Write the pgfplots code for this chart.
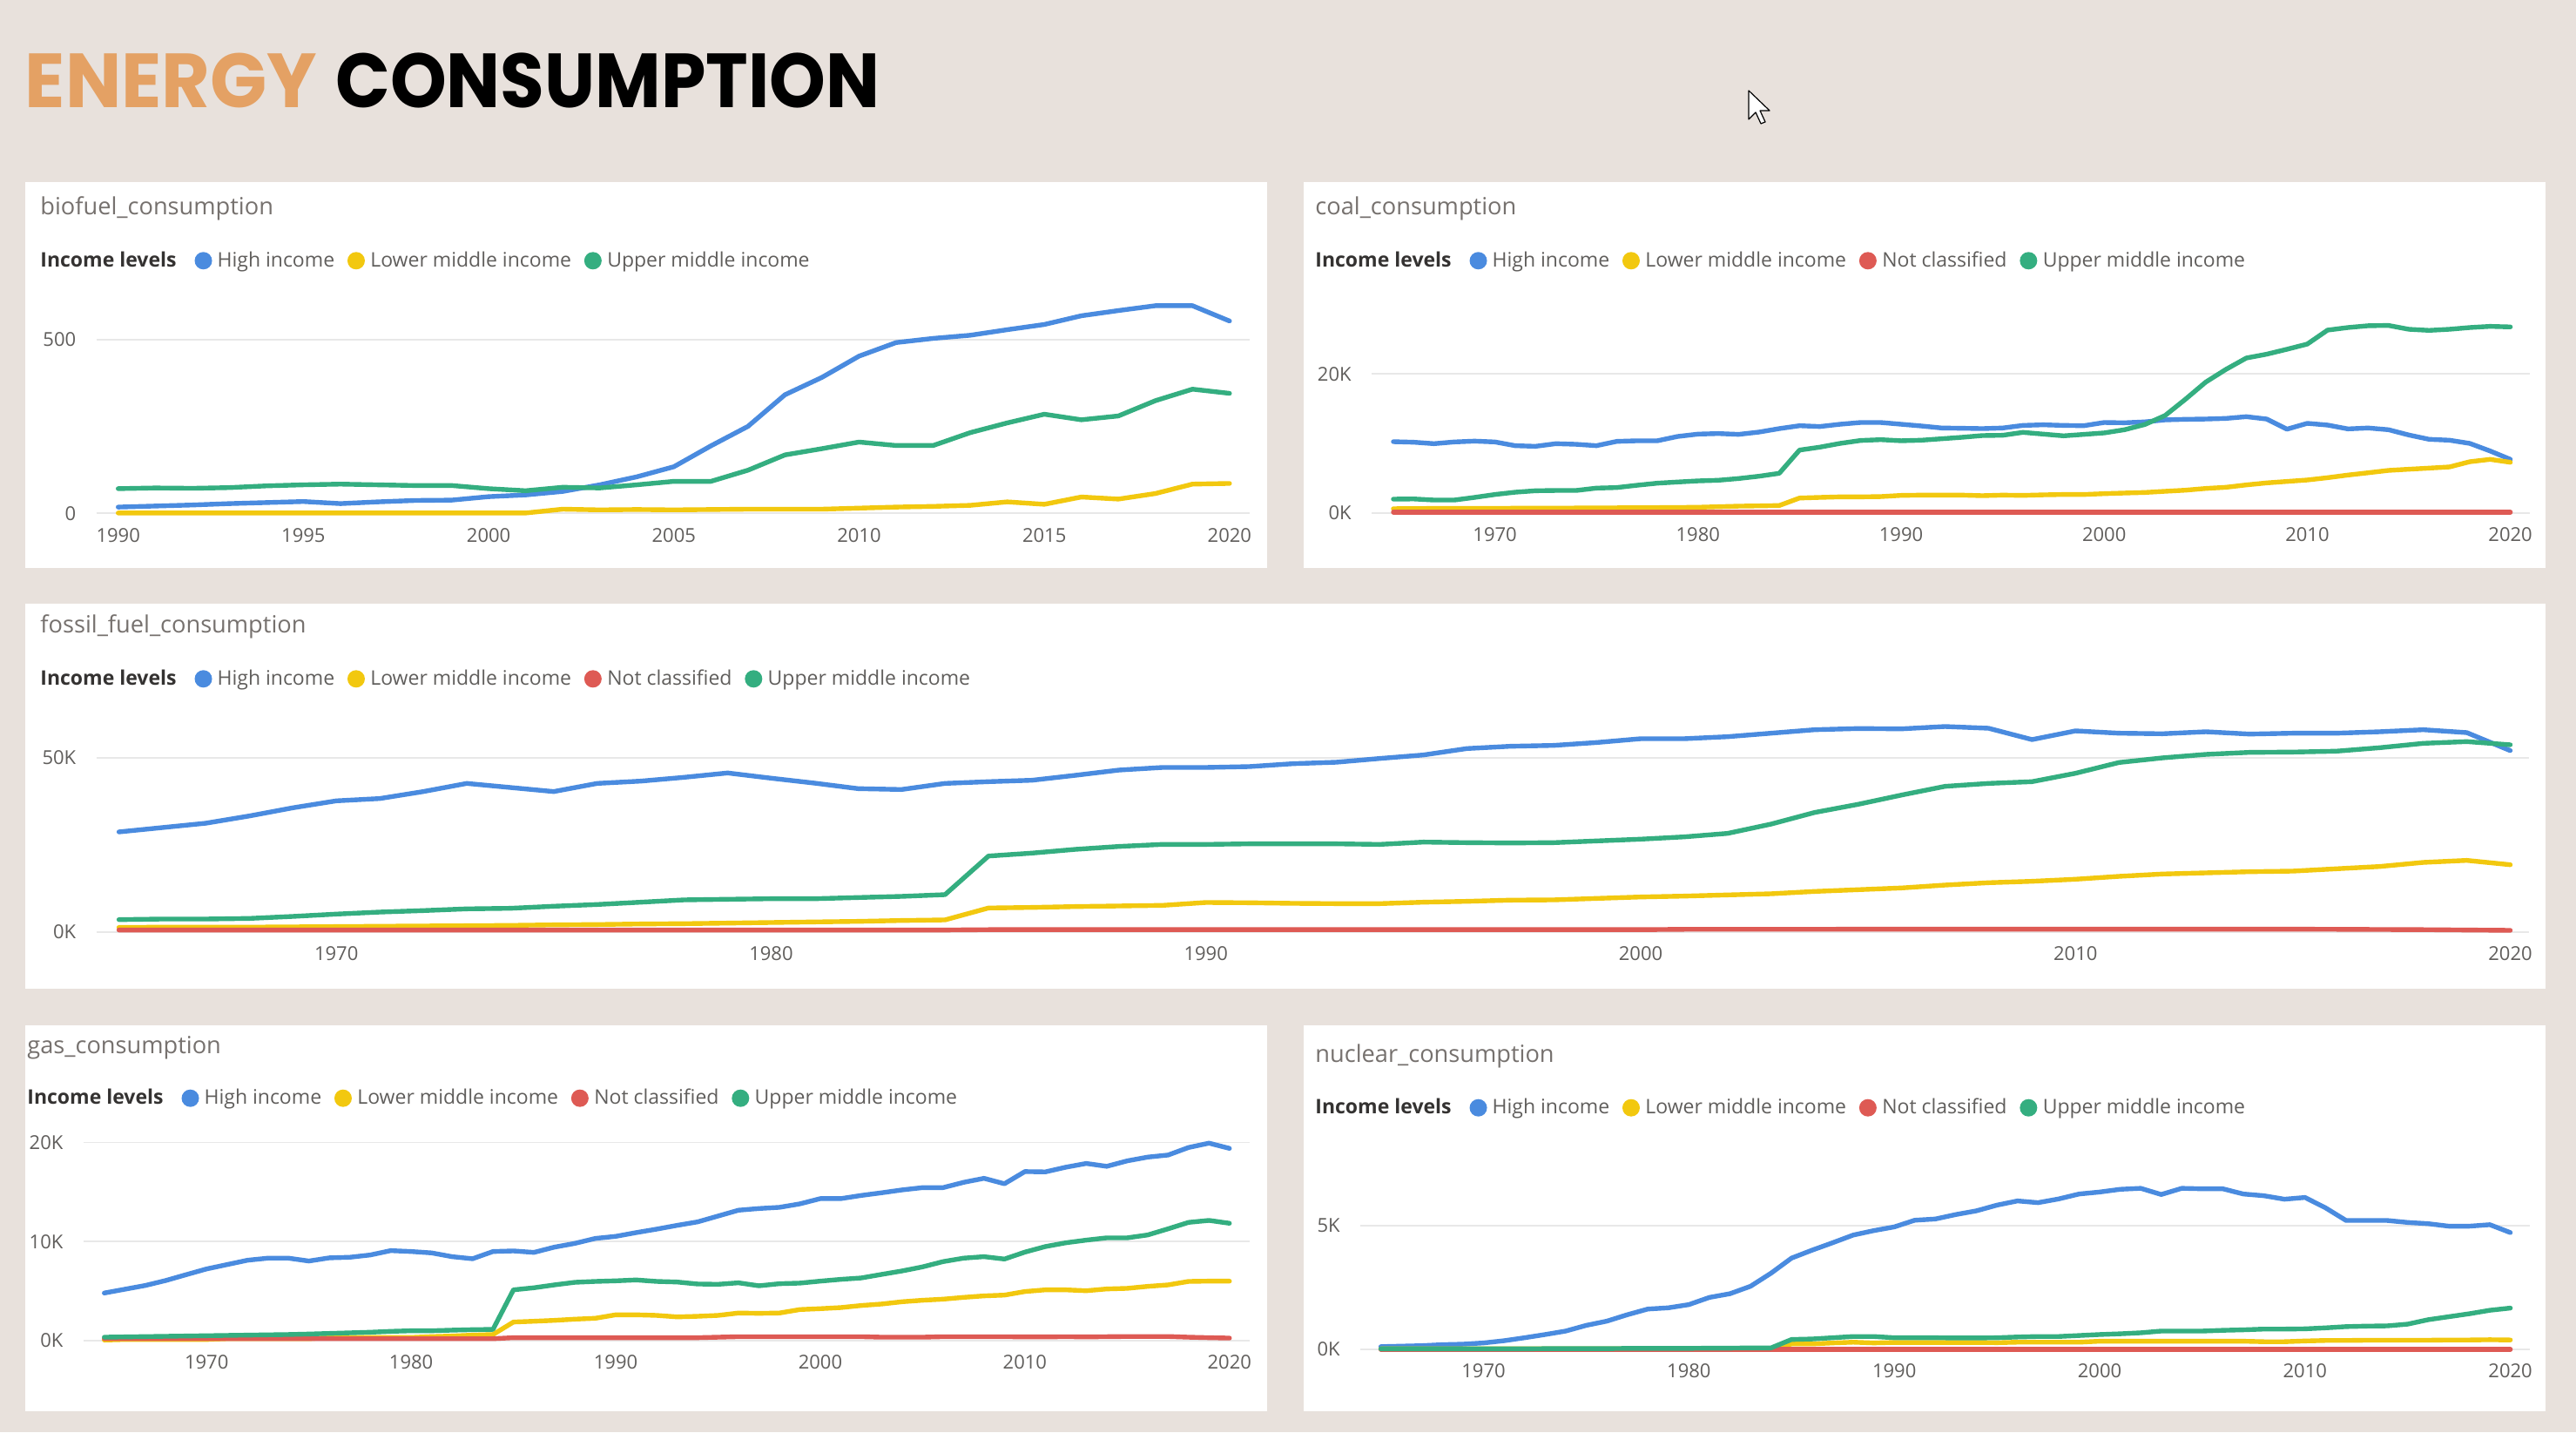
\documentclass[border=0pt]{standalone}
\usepackage{fontspec}
\setmainfont{Open Sans}
\newfontfamily\titlefont{Poppins}
\usepackage{pgfplots}
\pgfplotsset{compat=1.18}
\usepackage{pgfplotstable}

\definecolor{bgc}{RGB}{232,225,220}
\definecolor{cblue}{RGB}{74,139,223}
\definecolor{cyellow}{RGB}{242,200,15}
\definecolor{cred}{RGB}{222,90,84}
\definecolor{cgreen}{RGB}{52,174,128}
\definecolor{gridc}{RGB}{232,232,232}
\definecolor{tickc}{RGB}{96,94,92}
\definecolor{titlec}{RGB}{118,113,110}
\definecolor{legdark}{RGB}{52,50,49}
\definecolor{energyc}{RGB}{228,161,100}

\newcommand{\legfont}{\fontsize{11.5}{13}\selectfont}
\newcommand{\panelfont}{\fontsize{13.6}{16}\selectfont}

% ---------------- data ----------------
\pgfplotstableread{
year high lower upper
1990 18 1 71
1991 21 1 73
1992 24 1 72
1993 28 1 74
1994 31 1 79
1995 34 1 82
1996 28 1 84
1997 33 1 82
1998 37 1 80
1999 38 1 80
2000 48 1 71
2001 53 1 65
2002 63 12 75
2003 82 10 73
2004 105 11 82
2005 134 10 92
2006 194 11 92
2007 250 12 124
2008 341 12 168
2009 391 12 186
2010 452 15 205
2011 491 18 195
2012 503 20 195
2013 512 23 232
2014 528 33 260
2015 543 26 285
2016 568 47 269
2017 583 41 280
2018 597 57 324
2019 597 84 357
2020 553 86 345
}\biofuel

\pgfplotstableread{
year high lower notc upper
1965 10.25 0.59 0.10 1.97
1966 10.17 0.62 0.10 2.00
1967 9.96 0.63 0.10 1.84
1968 10.21 0.63 0.10 1.84
1969 10.33 0.64 0.10 2.22
1970 10.21 0.65 0.10 2.64
1971 9.67 0.66 0.10 2.97
1972 9.58 0.67 0.10 3.18
1973 9.96 0.68 0.10 3.22
1974 9.87 0.69 0.10 3.22
1975 9.67 0.70 0.10 3.56
1976 10.29 0.72 0.10 3.64
1977 10.38 0.74 0.10 3.97
1978 10.38 0.75 0.10 4.27
1979 11.00 0.77 0.10 4.44
1980 11.34 0.80 0.10 4.60
1981 11.42 0.88 0.10 4.69
1982 11.30 0.96 0.10 4.94
1983 11.63 1.00 0.10 5.27
1984 12.13 1.05 0.10 5.69
1985 12.55 2.13 0.10 9.04
1986 12.43 2.22 0.10 9.46
1987 12.76 2.30 0.10 10.00
1988 13.01 2.30 0.10 10.42
1989 13.01 2.34 0.10 10.54
1990 12.76 2.51 0.10 10.38
1991 12.51 2.55 0.10 10.46
1992 12.22 2.55 0.10 10.67
1993 12.18 2.55 0.10 10.88
1994 12.13 2.47 0.10 11.13
1995 12.22 2.55 0.10 11.17
1996 12.59 2.51 0.10 11.59
1997 12.68 2.59 0.10 11.34
1998 12.59 2.64 0.10 11.09
1999 12.55 2.64 0.10 11.30
2000 13.01 2.76 0.10 11.51
2001 12.97 2.85 0.10 11.97
2002 13.10 2.93 0.10 12.72
2003 13.39 3.10 0.10 14.02
2004 13.47 3.26 0.10 16.36
2005 13.51 3.51 0.10 18.83
2006 13.60 3.68 0.10 20.67
2007 13.85 4.02 0.10 22.30
2008 13.51 4.31 0.10 22.85
2009 12.05 4.52 0.10 23.56
2010 12.89 4.73 0.10 24.31
2011 12.64 5.06 0.10 26.32
2012 12.09 5.44 0.10 26.69
2013 12.22 5.77 0.10 26.95
2014 11.97 6.11 0.10 26.99
2015 11.21 6.28 0.10 26.44
2016 10.59 6.44 0.10 26.28
2017 10.46 6.61 0.10 26.44
2018 10.00 7.36 0.10 26.69
2019 8.91 7.70 0.10 26.86
2020 7.70 7.28 0.10 26.78
}\coal

\pgfplotstableread{
year high lower notc upper
1965 28.75 1.33 0.6 3.58
1966 30.00 1.42 0.6 3.75
1967 31.25 1.42 0.6 3.75
1968 33.33 1.42 0.6 3.92
1969 35.67 1.50 0.6 4.50
1970 37.67 1.58 0.6 5.17
1971 38.33 1.67 0.6 5.75
1972 40.33 1.75 0.6 6.17
1973 42.67 1.83 0.6 6.67
1974 41.50 1.92 0.6 6.83
1975 40.33 2.08 0.6 7.42
1976 42.67 2.17 0.6 7.92
1977 43.33 2.33 0.6 8.58
1978 44.42 2.42 0.6 9.25
1979 45.67 2.58 0.6 9.42
1980 44.17 2.75 0.6 9.58
1981 42.75 2.92 0.6 9.58
1982 41.17 3.08 0.6 9.92
1983 40.92 3.33 0.6 10.25
1984 42.67 3.50 0.6 10.75
1985 43.17 6.92 0.7 21.83
1986 43.58 7.08 0.7 22.67
1987 45.00 7.33 0.7 23.75
1988 46.50 7.50 0.7 24.58
1989 47.25 7.67 0.7 25.17
1990 47.25 8.50 0.7 25.17
1991 47.50 8.42 0.7 25.33
1992 48.33 8.25 0.7 25.33
1993 48.75 8.17 0.7 25.33
1994 49.83 8.17 0.7 25.17
1995 50.83 8.58 0.7 25.83
1996 52.67 8.83 0.7 25.67
1997 53.33 9.17 0.7 25.58
1998 53.58 9.25 0.7 25.67
1999 54.42 9.67 0.7 26.17
2000 55.50 10.08 0.7 26.67
2001 55.50 10.33 0.8 27.33
2002 56.08 10.67 0.8 28.33
2003 57.08 11.00 0.8 31.00
2004 58.08 11.67 0.8 34.33
2005 58.42 12.17 0.85 36.67
2006 58.33 12.67 0.85 39.33
2007 59.00 13.50 0.85 41.83
2008 58.50 14.17 0.85 42.67
2009 55.25 14.58 0.85 43.17
2010 57.75 15.17 0.85 45.58
2011 57.08 16.00 0.85 48.67
2012 56.92 16.67 0.85 50.00
2013 57.50 17.00 0.85 51.00
2014 56.83 17.33 0.85 51.58
2015 57.08 17.50 0.85 51.67
2016 57.08 18.17 0.8 51.92
2017 57.50 18.83 0.75 52.92
2018 58.08 20.00 0.7 54.17
2019 57.25 20.58 0.6 54.67
2020 52.08 19.33 0.5 53.75
}\fossil

\pgfplotstableread{
year high lower notc upper
1965 4.81 0.06 0.20 0.35
1966 5.19 0.12 0.20 0.38
1967 5.57 0.12 0.20 0.41
1968 6.07 0.12 0.20 0.44
1969 6.66 0.12 0.20 0.47
1970 7.24 0.12 0.20 0.50
1971 7.68 0.20 0.20 0.53
1972 8.12 0.20 0.20 0.56
1973 8.33 0.20 0.20 0.59
1974 8.33 0.20 0.20 0.62
1975 8.04 0.20 0.20 0.67
1976 8.36 0.32 0.20 0.73
1977 8.42 0.32 0.20 0.79
1978 8.65 0.32 0.20 0.85
1979 9.09 0.32 0.20 0.94
1980 9.00 0.32 0.20 1.00
1981 8.86 0.41 0.20 1.00
1982 8.48 0.47 0.20 1.06
1983 8.27 0.56 0.20 1.11
1984 9.00 0.62 0.20 1.14
1985 9.06 1.88 0.30 5.13
1986 8.91 1.96 0.30 5.34
1987 9.44 2.05 0.30 5.63
1988 9.82 2.17 0.30 5.89
1989 10.32 2.26 0.30 5.98
1990 10.53 2.61 0.30 6.04
1991 10.91 2.61 0.30 6.13
1992 11.26 2.55 0.30 5.98
1993 11.64 2.40 0.30 5.92
1994 11.99 2.46 0.30 5.72
1995 12.58 2.55 0.35 5.69
1996 13.17 2.79 0.40 5.84
1997 13.34 2.76 0.40 5.54
1998 13.46 2.79 0.40 5.75
1999 13.81 3.14 0.40 5.81
2000 14.34 3.23 0.40 6.01
2001 14.34 3.34 0.40 6.19
2002 14.66 3.55 0.40 6.33
2003 14.93 3.70 0.35 6.69
2004 15.22 3.93 0.35 7.04
2005 15.45 4.08 0.35 7.45
2006 15.45 4.19 0.40 7.98
2007 15.98 4.37 0.40 8.33
2008 16.39 4.52 0.40 8.48
2009 15.84 4.60 0.40 8.24
2010 17.07 4.96 0.38 8.94
2011 17.04 5.13 0.38 9.50
2012 17.51 5.13 0.40 9.88
2013 17.89 5.04 0.38 10.15
2014 17.60 5.22 0.40 10.38
2015 18.15 5.28 0.42 10.38
2016 18.53 5.48 0.42 10.67
2017 18.74 5.63 0.42 11.29
2018 19.50 5.98 0.35 11.94
2019 19.94 6.01 0.30 12.14
2020 19.41 6.01 0.26 11.85
}\gas

\pgfplotstableread{
year high lower notc upper
1965 0.11 0.02 0 0.02
1966 0.13 0.02 0 0.02
1967 0.15 0.02 0 0.02
1968 0.19 0.02 0 0.02
1969 0.21 0.02 0 0.02
1970 0.26 0.02 0 0.02
1971 0.35 0.02 0 0.02
1972 0.47 0.02 0 0.02
1973 0.60 0.02 0 0.03
1974 0.74 0.02 0 0.03
1975 0.97 0.02 0 0.03
1976 1.14 0.02 0 0.03
1977 1.40 0.02 0 0.04
1978 1.63 0.02 0 0.04
1979 1.68 0.02 0 0.04
1980 1.81 0.02 0 0.04
1981 2.10 0.02 0 0.05
1982 2.25 0.02 0 0.05
1983 2.55 0.02 0 0.06
1984 3.08 0.02 0 0.06
1985 3.69 0.22 0 0.40
1986 4.01 0.22 0 0.42
1987 4.31 0.26 0 0.47
1988 4.62 0.29 0 0.52
1989 4.80 0.26 0 0.52
1990 4.95 0.28 0 0.47
1991 5.22 0.28 0 0.47
1992 5.27 0.28 0 0.47
1993 5.45 0.28 0 0.46
1994 5.60 0.28 0 0.46
1995 5.83 0.27 0 0.47
1996 6.00 0.29 0 0.50
1997 5.93 0.29 0 0.52
1998 6.08 0.29 0 0.52
1999 6.28 0.29 0 0.56
2000 6.36 0.33 0 0.60
2001 6.47 0.33 0 0.63
2002 6.51 0.33 0 0.67
2003 6.26 0.33 0 0.74
2004 6.51 0.33 0 0.74
2005 6.49 0.33 0 0.74
2006 6.49 0.33 0 0.77
2007 6.28 0.33 0 0.79
2008 6.21 0.31 0 0.82
2009 6.07 0.31 0 0.82
2010 6.14 0.34 0 0.83
2011 5.72 0.36 0 0.87
2012 5.21 0.36 0 0.92
2013 5.21 0.37 0 0.94
2014 5.21 0.37 0 0.95
2015 5.13 0.37 0 1.02
2016 5.08 0.37 0 1.20
2017 4.98 0.38 0 1.32
2018 4.98 0.38 0 1.44
2019 5.04 0.39 0 1.58
2020 4.72 0.38 0 1.67
}\nuclear

\pgfplotsset{
  panel/.style={
    scale only axis, anchor=south west, clip=false,
    axis line style={draw=none}, major tick length=0pt,
    ymajorgrids, grid style={color=gridc, line width=0.9pt},
    tick label style={font=\fontsize{11}{13}\selectfont, text=tickc},
    xticklabel style={anchor=center, inner sep=0pt, yshift=-12.5pt},
    yticklabel style={anchor=east, inner sep=0pt, xshift=-11.5pt},
    every axis plot/.append style={line width=2.7pt, line join=round, line cap=round, mark=none},
  },
}

\tikzset{
  legtxt/.style={anchor=west, inner sep=0pt, text height=0.72em, text depth=0pt, font=\legfont, text=tickc},
  ptitle/.style={anchor=west, inner sep=0pt, text height=0.76em, text depth=0.24em, font=\panelfont, text=titlec},
}

\newcommand{\legendrow}[3]{%
  \node[legtxt, font=\legfont\bfseries, text=legdark] (a0) at (#1,#2) {Income levels};
  \fill[cblue] ([xshift=15.25pt]a0.east) circle (5pt);
  \node[legtxt] (a1) at ([xshift=23.1pt]a0.east) {High income};
  \fill[cyellow] ([xshift=12.2pt]a1.east) circle (5pt);
  \node[legtxt] (a2) at ([xshift=20.2pt]a1.east) {Lower middle income};
  \ifnum#3=1
    \fill[cred] ([xshift=12.2pt]a2.east) circle (5pt);
    \node[legtxt] (a3) at ([xshift=20.2pt]a2.east) {Not classified};
    \fill[cgreen] ([xshift=12.2pt]a3.east) circle (5pt);
    \node[legtxt] at ([xshift=20.2pt]a3.east) {Upper middle income};
  \else
    \fill[cgreen] ([xshift=12.2pt]a2.east) circle (5pt);
    \node[legtxt] at ([xshift=20.2pt]a2.east) {Upper middle income};
  \fi}

\newlength\twE
\newlength\twC
\newcommand{\ttfontsel}{\titlefont\bfseries\fontsize{44}{44}\selectfont}

\begin{document}
\settowidth\twE{\ttfontsel ENERGY}%
\settowidth\twC{\ttfontsel CONSUMPTION}%
\pgfmathsetmacro\sxE{167.7/\twE}%
\pgfmathsetmacro\sxC{312.5/\twC}%
\begin{tikzpicture}
% background
\fill[bgc] (0pt,0pt) rectangle (1479pt,822pt);
% main title
\node[anchor=base west, inner sep=0pt, text=energyc] at (14.2pt,760pt) {\scalebox{\sxE}[1]{\ttfontsel ENERGY}};
\node[anchor=base west, inner sep=0pt, text=black] at (192.5pt,760pt) {\scalebox{\sxC}[1]{\ttfontsel CONSUMPTION}};
% cursor
\filldraw[fill=white, draw=black, line width=0.6pt, line join=round]
  (1004pt,770pt) -- ++(0pt,-16.5pt) -- ++(4pt,4pt) -- ++(3pt,-6.5pt) -- ++(2.5pt,1pt) -- ++(-3pt,6.5pt) -- ++(5.5pt,0pt) -- cycle;

% panels
\fill[white] (14.5pt,496pt) rectangle (727.5pt,717.5pt);
\fill[white] (748.5pt,496pt) rectangle (1461.5pt,717.5pt);
\fill[white] (14.5pt,254.5pt) rectangle (1461.5pt,475.5pt);
\fill[white] (14.5pt,12pt) rectangle (727.5pt,233.5pt);
\fill[white] (748.5pt,12pt) rectangle (1461.5pt,233.5pt);

% panel titles
\node[ptitle] at (23pt,701.2pt) {biofuel\_consumption};
\node[ptitle] at (755pt,701.2pt) {coal\_consumption};
\node[ptitle] at (23pt,461.2pt) {fossil\_fuel\_consumption};
\node[ptitle] at (15.5pt,219.9pt) {gas\_consumption};
\node[ptitle] at (755pt,214.9pt) {nuclear\_consumption};

% legends
\legendrow{23pt}{672.35pt}{0}
\legendrow{755pt}{672.35pt}{1}
\legendrow{23pt}{432.35pt}{1}
\legendrow{15.5pt}{191.65pt}{1}
\legendrow{755pt}{186.15pt}{1}

% biofuel
\begin{axis}[panel, at={(55.3pt,527.35pt)}, width=662.1pt, height=123.78pt,
  xmin=1989.41, xmax=2020.54, ymin=0, ymax=620,
  xtick={1990,1995,2000,2005,2010,2015,2020},
  xticklabels={1990,1995,2000,2005,2010,2015,2020},
  ytick={0,500}, yticklabels={0,500}]
\addplot[cblue] table[x=year,y=high]{\biofuel};
\addplot[cyellow] table[x=year,y=lower]{\biofuel};
\addplot[cgreen] table[x=year,y=upper]{\biofuel};
\end{axis}

% coal
\begin{axis}[panel, at={(787.5pt,527.65pt)}, width=665pt, height=127.5pt,
  xmin=1963.93, xmax=2020.96, ymin=0, ymax=32,
  xtick={1970,1980,1990,2000,2010,2020},
  xticklabels={1970,1980,1990,2000,2010,2020},
  ytick={0,20}, yticklabels={0K,20K}]
\addplot[cblue] table[x=year,y=high]{\coal};
\addplot[cyellow] table[x=year,y=lower]{\coal};
\addplot[cred] table[x=year,y=notc]{\coal};
\addplot[cgreen] table[x=year,y=upper]{\coal};
\end{axis}

% fossil
\begin{axis}[panel, at={(55.3pt,287pt)}, width=1396.7pt, height=124pt,
  xmin=1964.48, xmax=2020.43, ymin=0, ymax=62,
  xtick={1970,1980,1990,2000,2010,2020},
  xticklabels={1970,1980,1990,2000,2010,2020},
  ytick={0,50}, yticklabels={0K,50K}]
\addplot[cblue] table[x=year,y=high]{\fossil};
\addplot[cyellow] table[x=year,y=lower]{\fossil};
\addplot[cred] table[x=year,y=notc]{\fossil};
\addplot[cgreen] table[x=year,y=upper]{\fossil};
\end{axis}

% gas
\begin{axis}[panel, at={(47.9pt,52.5pt)}, width=669.5pt, height=116.55pt,
  xmin=1963.98, xmax=2020.98, ymin=0, ymax=20.5,
  xtick={1970,1980,1990,2000,2010,2020},
  xticklabels={1970,1980,1990,2000,2010,2020},
  ytick={0,10,20}, yticklabels={0K,10K,20K}]
\addplot[cblue] table[x=year,y=high]{\gas};
\addplot[cyellow] table[x=year,y=lower]{\gas};
\addplot[cred] table[x=year,y=notc]{\gas};
\addplot[cgreen] table[x=year,y=upper]{\gas};
\end{axis}

% nuclear
\begin{axis}[panel, at={(781pt,47.5pt)}, width=671.5pt, height=99.4pt,
  xmin=1964.0, xmax=2020.95, ymin=0, ymax=7,
  xtick={1970,1980,1990,2000,2010,2020},
  xticklabels={1970,1980,1990,2000,2010,2020},
  ytick={0,5}, yticklabels={0K,5K}]
\addplot[cblue] table[x=year,y=high]{\nuclear};
\addplot[cyellow] table[x=year,y=lower]{\nuclear};
\addplot[cred] table[x=year,y=notc]{\nuclear};
\addplot[cgreen] table[x=year,y=upper]{\nuclear};
\end{axis}

\pgfresetboundingbox
\useasboundingbox (0pt,0pt) rectangle (1479pt,822pt);
\end{tikzpicture}
\end{document}
